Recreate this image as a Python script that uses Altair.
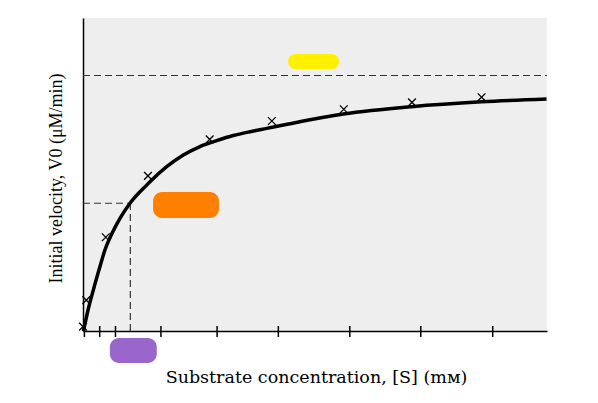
import altair as alt
import pandas as pd

# fitted Michaelis-Menten curve
curve_s = [0.01, 0.114, 0.222, 0.366, 0.474, 0.619, 0.797, 1.013, 1.373, 1.444, 1.804, 2.162,
           2.522, 2.881, 3.239, 3.599, 3.959, 4.319, 5.61, 7.08, 8.59, 9.99]
curve_v = [0.0, 8.6, 16.0, 25.2, 31.8, 38.0, 44.1, 50.0, 57.1, 58.4, 64.3, 68.9,
           72.2, 74.5, 76.5, 78.0, 79.3, 80.6, 84.9, 87.8, 89.7, 90.8]
# observed points
obs_s = [0.0, 0.07, 0.49, 1.40, 2.73, 4.07, 5.62, 7.09, 8.59]
obs_v = [1.7, 12.1, 36.7, 60.7, 75.0, 82.2, 86.8, 89.5, 91.5]
# x axis tick positions
tick_s = [0.03, 0.36, 0.70, 1.68, 2.89, 4.21, 5.75, 7.28, 8.83]
vmax = 100.0
km = 1.02
# label blobs (covered labels): Vmax, Vmax/2, Km
blob_s = [4.42, 1.51, 0.58]
blob_s2 = [5.52, 2.93, 1.59]
blob_v = [102.5, 44.2, -2.7]
blob_v2 = [108.4, 54.4, -12.5]
blob_color = ["#FFF000", "#FF8000", "#9966CC"]

x_title = "Substrate concentration, [S] (mᴍ)"
y_title = "Initial velocity, V0 (μM/min)"

xs = alt.Scale(domain=[0, 10], nice=False, zero=False)
ys = alt.Scale(domain=[0, 122.5], nice=False, zero=False)

curve_df = pd.DataFrame({"s": curve_s, "v": curve_v})
obs_df = pd.DataFrame({"s": obs_s, "v": obs_v})
tick_df = pd.DataFrame({"s": tick_s, "v": [-2.35] * len(tick_s), "v2": [1.96] * len(tick_s)})
hline_df = pd.DataFrame({"s": [0, 0], "s2": [10, km], "v": [vmax, vmax / 2]})
vline_df = pd.DataFrame({"s": [km], "v": [0], "v2": [vmax / 2]})
blob_df = pd.DataFrame({"s": blob_s, "s2": blob_s2, "v": blob_v, "v2": blob_v2,
                        "c": blob_color})

xaxis = alt.Axis(title=x_title, domain=True, domainColor="#000000", domainWidth=1.5,
                 ticks=False, labels=False, grid=False, titleFont="DejaVu Serif",
                 titleFontSize=17.5, titleFontWeight="normal", titleColor="#000000",
                 titleX=233, titleY=51, titleAlign="center", titleBaseline="alphabetic")
yaxis = alt.Axis(title=y_title, domain=True, domainColor="#000000", domainWidth=1.5,
                 ticks=False, labels=False, grid=False, titleFont="Liberation Serif",
                 titleFontSize=18, titleFontWeight="normal", titleColor="#000000",
                 titleX=-27, titleY=160, titleAlign="center", titleBaseline="middle",
                 titleAngle=270)

curve = alt.Chart(curve_df).mark_line(color="#000000", strokeWidth=3.5,
                                      interpolate="monotone").encode(
    x=alt.X("s:Q", scale=xs, axis=xaxis),
    y=alt.Y("v:Q", scale=ys, axis=yaxis),
)

hlines = alt.Chart(hline_df).mark_rule(color="#333333", strokeWidth=1.2,
                                       strokeDash=[7, 4]).encode(
    x=alt.X("s:Q", scale=xs), x2="s2:Q", y=alt.Y("v:Q", scale=ys))

vline = alt.Chart(vline_df).mark_rule(color="#333333", strokeWidth=1.2,
                                      strokeDash=[7, 4]).encode(
    x=alt.X("s:Q", scale=xs), y=alt.Y("v:Q", scale=ys), y2="v2:Q")

ticks = alt.Chart(tick_df).mark_rule(color="#000000", strokeWidth=1.5).encode(
    x=alt.X("s:Q", scale=xs), y=alt.Y("v:Q", scale=ys), y2="v2:Q")

points = alt.Chart(obs_df).mark_point(shape="M-1,-1L1,1M-1,1L1,-1", size=60,
                                      filled=False, color="#000000",
                                      strokeWidth=1.3, opacity=1).encode(
    x=alt.X("s:Q", scale=xs), y=alt.Y("v:Q", scale=ys))

blobs = alt.Chart(blob_df).mark_rect(cornerRadius=9).encode(
    x=alt.X("s:Q", scale=xs), x2="s2:Q",
    y=alt.Y("v:Q", scale=ys), y2="v2:Q",
    color=alt.Color("c:N", scale=None, legend=None),
)

chart = alt.layer(hlines, vline, curve, ticks, points, blobs).properties(
    width=464, height=313,
    padding={"left": 75, "top": 10, "right": 40, "bottom": 60},
    autosize=alt.AutoSizeParams(type="none"),
    background="#ffffff",
).configure_view(fill="#eeeeee", strokeWidth=0)

chart.save("out.html", embed_options={"renderer": "svg", "actions": False})
